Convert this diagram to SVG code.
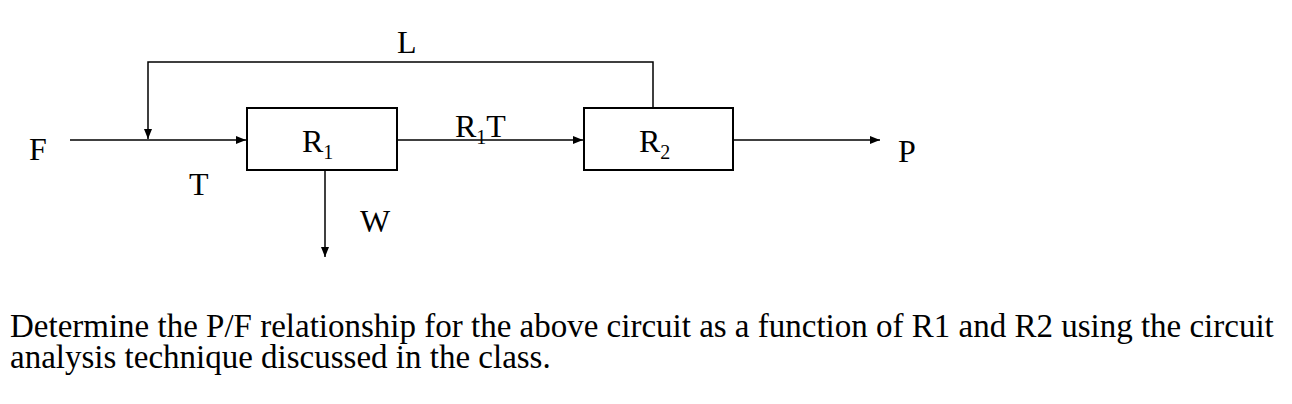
<svg xmlns="http://www.w3.org/2000/svg" width="1292" height="404" viewBox="0 0 1292 404">
<style>
text{font-family:"Liberation Serif",serif;fill:#000}
.l{font-size:32px}
.s{font-size:20px}
.p{font-size:33px}
.c{stroke:#000;stroke-width:1.5;fill:none}
.b{fill:#fff;stroke:#000;stroke-width:2}
</style>
<defs><marker id="a" markerWidth="10" markerHeight="8" refX="10" refY="4" orient="auto" markerUnits="userSpaceOnUse"><path d="M0,0L10,4L0,8z" fill="#000"/></marker></defs>
<rect width="1292" height="404" fill="#fff"/>
<g id="connectors">
<path class="c" d="M70,140H246" marker-end="url(#a)"/>
<path class="c" d="M653,108V62H148V139" marker-end="url(#a)"/>
<path class="c" d="M397,140H583" marker-end="url(#a)"/>
<path class="c" d="M733,140H880" marker-end="url(#a)"/>
<path class="c" d="M325,170V257" marker-end="url(#a)"/>
</g>
<g id="R1"><rect class="b" x="247" y="108" width="150" height="62"/><text class="l" x="302" y="152">R<tspan class="s" dy="7">1</tspan></text></g>
<g id="R2"><rect class="b" x="584" y="108" width="149" height="62"/><text class="l" x="639" y="152">R<tspan class="s" dy="7">2</tspan></text></g>
<text class="l" x="29" y="160">F</text>
<text class="l" x="189" y="195">T</text>
<text class="l" x="360" y="232">W</text>
<text class="l" x="397" y="53">L</text>
<text class="l" x="455" y="137">R<tspan class="s" dy="7">1</tspan><tspan dy="-7">T</tspan></text>
<text class="l" x="898" y="162">P</text>
<text class="p" x="10" y="337">Determine the P/F relationship for the above circuit as a function of R1 and R2 using the circuit</text>
<text class="p" x="10" y="368">analysis technique discussed in the class.</text>
</svg>
